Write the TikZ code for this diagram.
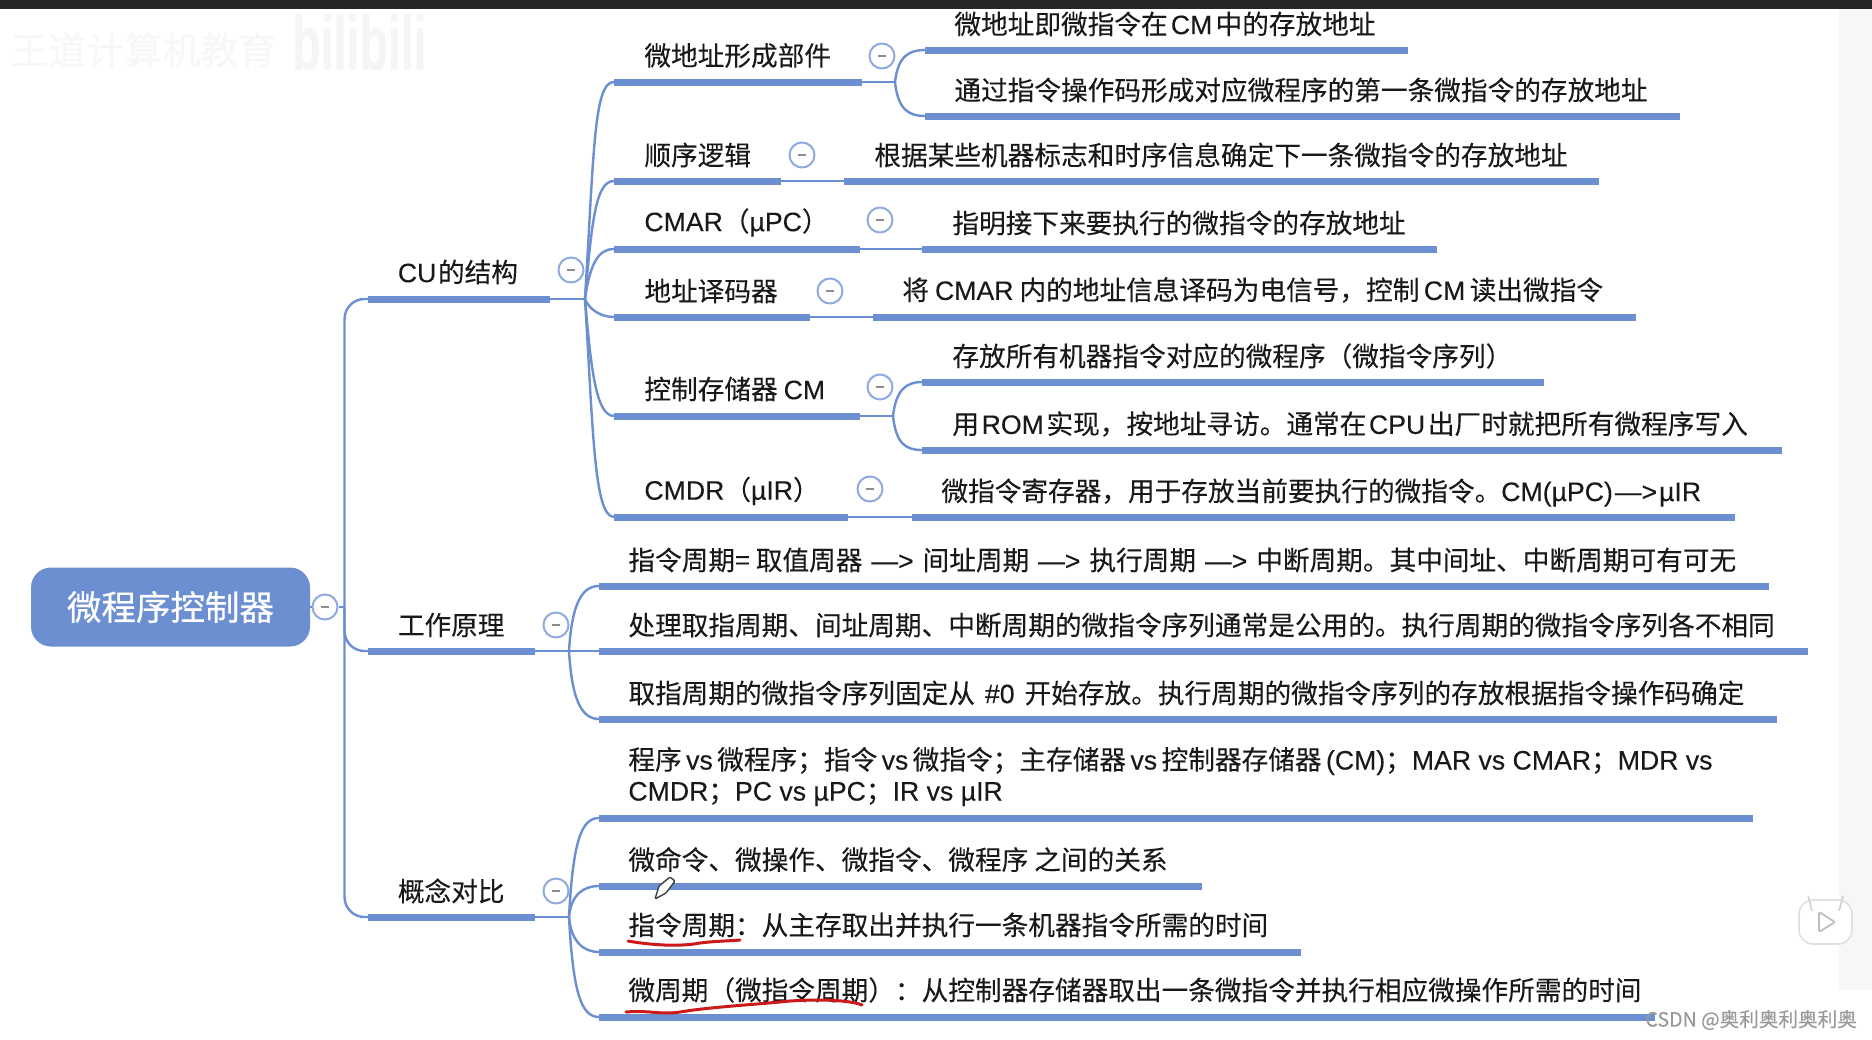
\documentclass[tikz,border=0pt]{standalone}
\usepackage{fontspec}
\setmainfont[FakeBold=0.12]{Noto Sans CJK SC}
\newfontfamily\rootfont[FakeBold=0.5]{Noto Sans CJK SC}
\newfontfamily\barefont[FakeBold=0.12]{Liberation Sans}
\newcommand{\la}[1]{{\barefont #1}}
\usetikzlibrary{positioning,shapes,calc}

\definecolor{mapblue}{HTML}{6C8FD2}
\definecolor{foldblue}{HTML}{8FAADF}
\definecolor{penred}{HTML}{CC1A1A}

\tikzset{
  bar/.style={line width=3.5pt, color=mapblue},
  wire/.style={line width=1.2pt, color=mapblue},
  stroke/.style={line width=1.5pt, color=penred, line cap=round},
  topic/.style={anchor=west, inner sep=0pt, text=black!90, font=\fontsize{13.33}{15.5}\selectfont},
  foldmark/.style={circle, draw=foldblue, fill=white, line width=1pt, minimum size=12.5pt, inner sep=0pt,
    path picture={\draw[line width=0.8pt, color=black!45] ([xshift=-2pt]path picture bounding box.center) -- ([xshift=2pt]path picture bounding box.center);}},
}

\begin{document}
\begin{tikzpicture}[x=0.5pt, y=-0.5pt]
    \useasboundingbox (0,0) rectangle (1872,1039);
    \fill[white] (0,0) rectangle (1872,1039);
    \fill[black!3] (1839,9) rectangle (1872,990);
    \fill[black!85] (0,0) rectangle (1872,9);

    % player leftovers
    \node[anchor=west, inner sep=0pt, text=black!3, font=\fontsize{19}{19}\selectfont] (wmark) at (10,50) {王道计算机教育};
    \node[anchor=west, inner sep=0pt, text=black!4, font=\barefont\bfseries\fontsize{31}{31}\selectfont, xscale=0.75, yscale=1.25] (bili) at (292,42) {bilibili};

    % root
    \node[rectangle, rounded corners=10pt, fill=mapblue, text=white, minimum width=139.5pt, minimum height=39.5pt, inner sep=0pt, font=\rootfont\fontsize{17.25}{17.25}\selectfont] (root) at (170.5,607) {微程序控制器};
    \node[foldmark] (rootf) at (325,607) {};
    \coordinate (rootj) at (344.5,607);
    \draw[wire] (root) -- (rootf);
    \draw[wire] (rootf) -- (rootj);

    % first level
    \node[topic] (cu) at (397.5,272) {\la{CU}\hspace{0.8pt}的结构};
    \node[topic] (wk) at (397.5,625) {工作原理};
    \node[topic] (cp) at (397.5,891) {概念对比};
    \node[foldmark] (cuf) at (571,270) {};
    \node[foldmark] (wkf) at (556,625) {};
    \node[foldmark] (cpf) at (556,891) {};
    \coordinate (cua) at (368,299); \coordinate (cub) at (550,299); \coordinate (cuj) at (585,299);
    \coordinate (wka) at (368,651); \coordinate (wkb) at (535,651); \coordinate (wkj) at (569,651);
    \coordinate (cpa) at (368,917); \coordinate (cpb) at (535,917); \coordinate (cpj) at (569,917);
    \draw[wire, rounded corners=10pt] (rootj) |- (cua);
    \draw[wire, rounded corners=10pt] (rootj) |- (wka);
    \draw[wire, rounded corners=10pt] (rootj) |- (cpa);
    \draw[bar] (cua) -- (cub);
    \draw[bar] (wka) -- (wkb);
    \draw[bar] (cpa) -- (cpb);
    \draw[wire] (cub) -- (cuj);
    \draw[wire] (wkb) -- (wkj);
    \draw[wire] (cpb) -- (cpj);

    % CU parts
    \node[topic] (ma) at (644,55.5) {微地址形成部件};
    \node[topic] (sq) at (644,155) {顺序逻辑};
    \node[topic] (cm) at (644,222.5) {\la{CMAR}（\la{µPC}）};
    \node[topic] (ad) at (644,291) {地址译码器};
    \node[topic] (st) at (644,389) {控制存储器 \la{CM}};
    \node[topic] (cd) at (644,491) {\la{CMDR}（\la{µIR}）};
    \node[foldmark] (maf) at (882,56) {};
    \node[foldmark] (sqf) at (802,155) {};
    \node[foldmark] (cmf) at (880,220) {};
    \node[foldmark] (adf) at (830,291) {};
    \node[foldmark] (stf) at (880,387) {};
    \node[foldmark] (cdf) at (870,489) {};
    \coordinate (maa) at (614,82);  \coordinate (mab) at (862,82);  \coordinate (maj) at (895,82);
    \coordinate (sqa) at (614,181); \coordinate (sqb) at (781,181);
    \coordinate (cma) at (614,249); \coordinate (cmb) at (860,249);
    \coordinate (ada) at (614,317); \coordinate (adb) at (810,317);
    \coordinate (sta) at (614,416); \coordinate (stb) at (860,416); \coordinate (stj) at (893,416);
    \coordinate (cda) at (614,517); \coordinate (cdb) at (848,517);
    \draw[wire] (cuj) .. controls +(9,-150) and +(-20,0) .. (maa);
    \draw[wire] (cuj) .. controls +(7,-80) and +(-18,0) .. (sqa);
    \draw[wire] (cuj) .. controls +(5,-35) and +(-16,0) .. (cma);
    \draw[wire] (cuj) .. controls +(4,10) and +(-14,0) .. (ada);
    \draw[wire] (cuj) .. controls +(6,70) and +(-18,0) .. (sta);
    \draw[wire] (cuj) .. controls +(8,130) and +(-20,0) .. (cda);
    \draw[bar] (maa) -- (mab);
    \draw[bar] (sqa) -- (sqb);
    \draw[bar] (cma) -- (cmb);
    \draw[bar] (ada) -- (adb);
    \draw[bar] (sta) -- (stb);
    \draw[bar] (cda) -- (cdb);
    \draw[wire] (mab) -- (maj);
    \draw[wire] (stb) -- (stj);

    % CU details
    \node[topic] (ma1) at (954,24) {微地址即微指令在\hspace{1.6pt}\la{CM}\hspace{1.6pt}中的存放地址};
    \node[topic] (ma2) at (954,90) {通过指令操作码形成对应微程序的第一条微指令的存放地址};
    \node[topic] (sq1) at (874,155) {根据某些机器标志和时序信息确定下一条微指令的存放地址};
    \node[topic] (cm1) at (952,223) {指明接下来要执行的微指令的存放地址};
    \node[topic] (ad1) at (902,290) {将 \la{CMAR} 内的地址信息译码为电信号，控制\,\la{CM}\,读出微指令};
    \node[topic] (st1) at (952,356) {存放所有机器指令对应的微程序（微指令序列）};
    \node[topic] (st2) at (952,424) {用\hspace{1.3pt}\la{ROM}\hspace{1.3pt}实现，按地址寻访。通常在\hspace{1.3pt}\la{CPU}\hspace{1.3pt}出厂时就把所有微程序写入};
    \node[topic] (cd1) at (941,492.5) {微指令寄存器，用于存放当前要执行的微指令。\la{CM(µPC)\hspace{1pt}—>\hspace{1pt}µIR}};
    \coordinate (ma1a) at (925,50);  \coordinate (ma1b) at (1408,50);
    \coordinate (ma2a) at (925,116); \coordinate (ma2b) at (1680,116);
    \coordinate (sq1a) at (844,181); \coordinate (sq1b) at (1599,181);
    \coordinate (cm1a) at (922,249); \coordinate (cm1b) at (1437,249);
    \coordinate (ad1a) at (873,317); \coordinate (ad1b) at (1636,317);
    \coordinate (st1a) at (922,382); \coordinate (st1b) at (1544,382);
    \coordinate (st2a) at (922,450); \coordinate (st2b) at (1782,450);
    \coordinate (cd1a) at (912,517); \coordinate (cd1b) at (1735,517);
    \draw[wire] (maj) .. controls +(3,-26) and +(-16,0) .. (ma1a);
    \draw[wire] (maj) .. controls +(3,28) and +(-16,0) .. (ma2a);
    \draw[wire] (stj) .. controls +(3,-26) and +(-16,0) .. (st1a);
    \draw[wire] (stj) .. controls +(3,28) and +(-16,0) .. (st2a);
    \draw[wire] (sqb) -- (sq1a);
    \draw[wire] (cmb) -- (cm1a);
    \draw[wire] (adb) -- (ad1a);
    \draw[wire] (cdb) -- (cd1a);
    \draw[bar] (ma1a) -- (ma1b);
    \draw[bar] (ma2a) -- (ma2b);
    \draw[bar] (sq1a) -- (sq1b);
    \draw[bar] (cm1a) -- (cm1b);
    \draw[bar] (ad1a) -- (ad1b);
    \draw[bar] (st1a) -- (st1b);
    \draw[bar] (st2a) -- (st2b);
    \draw[bar] (cd1a) -- (cd1b);

    % working principle
    \node[topic] (wk1) at (628,560) {指令周期= 取值周器\hspace{1.5pt} \la{—>} \hspace{1.5pt}间址周期\hspace{1.5pt} \la{—>} \hspace{1.5pt}执行周期\hspace{1.5pt} \la{—>} \hspace{1.5pt}中断周期。其中间址、中断周期可有可无};
    \node[topic] (wk2) at (628,625) {处理取指周期、间址周期、中断周期的微指令序列通常是公用的。执行周期的微指令序列各不相同};
    \node[topic] (wk3) at (628,693) {取指周期的微指令序列固定从\hspace{2pt} \la{\#0} \hspace{2pt}开始存放。执行周期的微指令序列的存放根据指令操作码确定};
    \coordinate (wk1a) at (599,586); \coordinate (wk1b) at (1769,586);
    \coordinate (wk2a) at (599,651); \coordinate (wk2b) at (1808,651);
    \coordinate (wk3a) at (599,719); \coordinate (wk3b) at (1777,719);
    \draw[wire] (wkj) .. controls +(3,-50) and +(-16,0) .. (wk1a);
    \draw[wire] (wkj) -- (wk2a);
    \draw[wire] (wkj) .. controls +(3,52) and +(-16,0) .. (wk3a);
    \draw[bar] (wk1a) -- (wk1b);
    \draw[bar] (wk2a) -- (wk2b);
    \draw[bar] (wk3a) -- (wk3b);

    % comparison
    \node[topic, align=left] (cp1) at (628,776.5) {程序\,\la{vs}\,微程序；指令\,\la{vs}\,微指令；主存储器\,\la{vs}\,控制器存储器\,\la{(CM)}；\la{MAR vs CMAR}；\la{MDR vs}\\\la{CMDR}；\la{PC vs µPC}；\la{IR vs µIR}};
    \node[topic] (cp2) at (628,859.5) {微命令、微操作、微指令、微程序 之间的关系};
    \node[topic] (cp3) at (628,925) {指令周期：从主存取出并执行一条机器指令所需的时间};
    \node[topic] (cp4) at (628,990) {微周期（微指令周期）：从控制器存储器取出一条微指令并执行相应微操作所需的时间};
    \coordinate (cp1a) at (599,818);  \coordinate (cp1b) at (1753,818);
    \coordinate (cp2a) at (599,886);  \coordinate (cp2b) at (1202,886);
    \coordinate (cp3a) at (599,952);  \coordinate (cp3b) at (1301,952);
    \coordinate (cp4a) at (599,1017); \coordinate (cp4b) at (1655,1017);
    \draw[wire] (cpj) .. controls +(4,-75) and +(-18,0) .. (cp1a);
    \draw[wire] (cpj) .. controls +(2,-22) and +(-16,0) .. (cp2a);
    \draw[wire] (cpj) .. controls +(2,24) and +(-16,0) .. (cp3a);
    \draw[wire] (cpj) .. controls +(4,75) and +(-18,0) .. (cp4a);
    \draw[bar] (cp1a) -- (cp1b);
    \draw[bar] (cp2a) -- (cp2b);
    \draw[bar] (cp3a) -- (cp3b);
    \draw[bar] (cp4a) -- (cp4b);

    % hand marks
    \draw[stroke] (628,941) .. controls (650,945) and (680,947) .. (700,943) .. controls (715,941) and (730,941) .. (740,940);
    \draw[stroke] (626,1012) .. controls (650,1010) and (660,1015) .. (680,1012) .. controls (710,1007) and (750,1005) .. (790,1001) .. controls (820,999) and (850,1000) .. (862,1005);
    \draw[line width=0.7pt, color=black!75, fill=white, rounded corners=0.6pt] (655,899) -- (659,886) -- (670,877) -- (675,881) -- (666,893) -- cycle;

    % play button
    \node[rectangle, rounded corners=7pt, fill=white, draw=black!12, line width=0.8pt, minimum width=26.5pt, minimum height=22pt, inner sep=0pt] (play) at (1825.5,922) {};
    \draw[line width=0.8pt, color=black!18] (1812,911) -- (1808,896);
    \draw[line width=0.8pt, color=black!18] (1839,911) -- (1843,896);
    \draw[line width=0.9pt, color=black!25, fill=white, rounded corners=1pt] (1819,912) -- (1835,922) -- (1819,932) -- cycle;

    % site mark
    \node[anchor=west, inner sep=0pt, text=black!40, font=\fontsize{9.8}{9.8}\selectfont] (site) at (1645,1020) {CSDN @奥利奥利奥利奥};
  \end{tikzpicture}
\end{document}
